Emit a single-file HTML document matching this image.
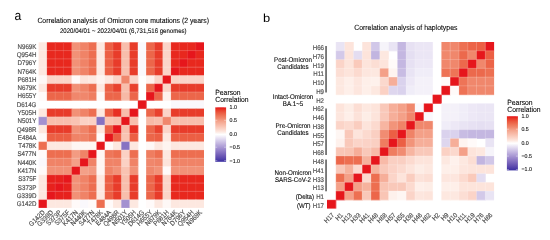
<!DOCTYPE html><html><head><meta charset="utf-8"><style>html,body{margin:0;padding:0;background:#fff;width:550px;height:240px;overflow:hidden}svg{display:block;will-change:transform;filter:blur(0.35px)}text{font-family:"Liberation Sans", sans-serif;fill:#000;stroke:#000;stroke-width:0.08px;paint-order:stroke;text-rendering:geometricPrecision}</style></head><body><svg width="550" height="240" viewBox="0 0 550 240"><rect width="550" height="240" fill="#fff"/><defs><linearGradient id="cb" x1="0" y1="0" x2="0" y2="1"><stop offset="0.000" stop-color="#e6161c"/><stop offset="0.025" stop-color="#e8281e"/><stop offset="0.050" stop-color="#e83c2a"/><stop offset="0.075" stop-color="#ea4b35"/><stop offset="0.100" stop-color="#eb5a40"/><stop offset="0.125" stop-color="#ec664a"/><stop offset="0.150" stop-color="#ee7255"/><stop offset="0.175" stop-color="#ef7d60"/><stop offset="0.200" stop-color="#f0876c"/><stop offset="0.225" stop-color="#f2947a"/><stop offset="0.250" stop-color="#f4a088"/><stop offset="0.275" stop-color="#f5a993"/><stop offset="0.300" stop-color="#f6b29d"/><stop offset="0.325" stop-color="#f8baa8"/><stop offset="0.350" stop-color="#f9c3b2"/><stop offset="0.375" stop-color="#faccbd"/><stop offset="0.400" stop-color="#fbd4c8"/><stop offset="0.425" stop-color="#fcded4"/><stop offset="0.450" stop-color="#fde8e0"/><stop offset="0.475" stop-color="#fef4f0"/><stop offset="0.500" stop-color="#ffffff"/><stop offset="0.525" stop-color="#f6f4fa"/><stop offset="0.550" stop-color="#ede8f6"/><stop offset="0.575" stop-color="#e4ddf1"/><stop offset="0.600" stop-color="#dad2ed"/><stop offset="0.625" stop-color="#d1c7e8"/><stop offset="0.650" stop-color="#c8bce3"/><stop offset="0.675" stop-color="#bfb1de"/><stop offset="0.700" stop-color="#b5a6da"/><stop offset="0.725" stop-color="#ac9cd5"/><stop offset="0.750" stop-color="#a391d0"/><stop offset="0.775" stop-color="#9987cc"/><stop offset="0.800" stop-color="#907cc7"/><stop offset="0.825" stop-color="#8672c2"/><stop offset="0.850" stop-color="#7c68bd"/><stop offset="0.875" stop-color="#725eb8"/><stop offset="0.900" stop-color="#6854b3"/><stop offset="0.925" stop-color="#5d4baf"/><stop offset="0.950" stop-color="#5241aa"/><stop offset="0.975" stop-color="#4637a5"/><stop offset="1.000" stop-color="#382ea0"/></linearGradient></defs><rect x="38.60" y="42.30" width="8.77" height="8.78" fill="#fde8e0"/><rect x="46.87" y="42.30" width="8.77" height="8.78" fill="#e8281e"/><rect x="55.14" y="42.30" width="8.77" height="8.78" fill="#e8281e"/><rect x="63.41" y="42.30" width="8.77" height="8.78" fill="#e8281e"/><rect x="71.68" y="42.30" width="8.77" height="8.78" fill="#f29177"/><rect x="79.95" y="42.30" width="8.77" height="8.78" fill="#f08367"/><rect x="88.22" y="42.30" width="8.77" height="8.78" fill="#ed6e50"/><rect x="96.49" y="42.30" width="8.77" height="8.78" fill="#fde8e0"/><rect x="104.76" y="42.30" width="8.77" height="8.78" fill="#ec5f44"/><rect x="113.03" y="42.30" width="8.77" height="8.78" fill="#e83c2a"/><rect x="121.30" y="42.30" width="8.77" height="8.78" fill="#f8beac"/><rect x="129.57" y="42.30" width="8.77" height="8.78" fill="#e83c2a"/><rect x="137.84" y="42.30" width="8.77" height="8.78" fill="#faf8fc"/><rect x="146.11" y="42.30" width="8.77" height="8.78" fill="#ec664a"/><rect x="154.38" y="42.30" width="8.77" height="8.78" fill="#e83c2a"/><rect x="162.65" y="42.30" width="8.77" height="8.78" fill="#fbd4c8"/><rect x="170.92" y="42.30" width="8.77" height="8.78" fill="#e8281e"/><rect x="179.19" y="42.30" width="8.77" height="8.78" fill="#e8281e"/><rect x="187.46" y="42.30" width="8.77" height="8.78" fill="#e8281e"/><rect x="195.73" y="42.30" width="8.27" height="8.78" fill="#e6161c"/><rect x="38.60" y="50.58" width="8.77" height="8.78" fill="#fde8e0"/><rect x="46.87" y="50.58" width="8.77" height="8.78" fill="#e8281e"/><rect x="55.14" y="50.58" width="8.77" height="8.78" fill="#e8281e"/><rect x="63.41" y="50.58" width="8.77" height="8.78" fill="#e8281e"/><rect x="71.68" y="50.58" width="8.77" height="8.78" fill="#f29177"/><rect x="79.95" y="50.58" width="8.77" height="8.78" fill="#f08367"/><rect x="88.22" y="50.58" width="8.77" height="8.78" fill="#ed6e50"/><rect x="96.49" y="50.58" width="8.77" height="8.78" fill="#fde8e0"/><rect x="104.76" y="50.58" width="8.77" height="8.78" fill="#ec5f44"/><rect x="113.03" y="50.58" width="8.77" height="8.78" fill="#e83c2a"/><rect x="121.30" y="50.58" width="8.77" height="8.78" fill="#f8beac"/><rect x="129.57" y="50.58" width="8.77" height="8.78" fill="#e83c2a"/><rect x="137.84" y="50.58" width="8.77" height="8.78" fill="#faf8fc"/><rect x="146.11" y="50.58" width="8.77" height="8.78" fill="#ec664a"/><rect x="154.38" y="50.58" width="8.77" height="8.78" fill="#e83c2a"/><rect x="162.65" y="50.58" width="8.77" height="8.78" fill="#fbd4c8"/><rect x="170.92" y="50.58" width="8.77" height="8.78" fill="#e8281e"/><rect x="179.19" y="50.58" width="8.77" height="8.78" fill="#e8281e"/><rect x="187.46" y="50.58" width="8.77" height="8.78" fill="#e6161c"/><rect x="195.73" y="50.58" width="8.27" height="8.78" fill="#e8281e"/><rect x="38.60" y="58.86" width="8.77" height="8.78" fill="#fde8e0"/><rect x="46.87" y="58.86" width="8.77" height="8.78" fill="#e8281e"/><rect x="55.14" y="58.86" width="8.77" height="8.78" fill="#e8281e"/><rect x="63.41" y="58.86" width="8.77" height="8.78" fill="#e8281e"/><rect x="71.68" y="58.86" width="8.77" height="8.78" fill="#f29177"/><rect x="79.95" y="58.86" width="8.77" height="8.78" fill="#f08367"/><rect x="88.22" y="58.86" width="8.77" height="8.78" fill="#ed6e50"/><rect x="96.49" y="58.86" width="8.77" height="8.78" fill="#fde8e0"/><rect x="104.76" y="58.86" width="8.77" height="8.78" fill="#ec5f44"/><rect x="113.03" y="58.86" width="8.77" height="8.78" fill="#e83c2a"/><rect x="121.30" y="58.86" width="8.77" height="8.78" fill="#f8beac"/><rect x="129.57" y="58.86" width="8.77" height="8.78" fill="#e83c2a"/><rect x="137.84" y="58.86" width="8.77" height="8.78" fill="#faf8fc"/><rect x="146.11" y="58.86" width="8.77" height="8.78" fill="#ec664a"/><rect x="154.38" y="58.86" width="8.77" height="8.78" fill="#e83c2a"/><rect x="162.65" y="58.86" width="8.77" height="8.78" fill="#fbd4c8"/><rect x="170.92" y="58.86" width="8.77" height="8.78" fill="#e8281e"/><rect x="179.19" y="58.86" width="8.77" height="8.78" fill="#e6161c"/><rect x="187.46" y="58.86" width="8.77" height="8.78" fill="#e8281e"/><rect x="195.73" y="58.86" width="8.27" height="8.78" fill="#e8281e"/><rect x="38.60" y="67.14" width="8.77" height="8.78" fill="#fde8e0"/><rect x="46.87" y="67.14" width="8.77" height="8.78" fill="#e8281e"/><rect x="55.14" y="67.14" width="8.77" height="8.78" fill="#e8281e"/><rect x="63.41" y="67.14" width="8.77" height="8.78" fill="#e8281e"/><rect x="71.68" y="67.14" width="8.77" height="8.78" fill="#f29177"/><rect x="79.95" y="67.14" width="8.77" height="8.78" fill="#f08367"/><rect x="88.22" y="67.14" width="8.77" height="8.78" fill="#ed6e50"/><rect x="96.49" y="67.14" width="8.77" height="8.78" fill="#fde8e0"/><rect x="104.76" y="67.14" width="8.77" height="8.78" fill="#ec5f44"/><rect x="113.03" y="67.14" width="8.77" height="8.78" fill="#e83c2a"/><rect x="121.30" y="67.14" width="8.77" height="8.78" fill="#f8beac"/><rect x="129.57" y="67.14" width="8.77" height="8.78" fill="#e83c2a"/><rect x="137.84" y="67.14" width="8.77" height="8.78" fill="#faf8fc"/><rect x="146.11" y="67.14" width="8.77" height="8.78" fill="#ec664a"/><rect x="154.38" y="67.14" width="8.77" height="8.78" fill="#e83c2a"/><rect x="162.65" y="67.14" width="8.77" height="8.78" fill="#fbd4c8"/><rect x="170.92" y="67.14" width="8.77" height="8.78" fill="#e6161c"/><rect x="179.19" y="67.14" width="8.77" height="8.78" fill="#e8281e"/><rect x="187.46" y="67.14" width="8.77" height="8.78" fill="#e8281e"/><rect x="195.73" y="67.14" width="8.27" height="8.78" fill="#e8281e"/><rect x="38.60" y="75.42" width="8.77" height="8.78" fill="#fef8f6"/><rect x="46.87" y="75.42" width="8.77" height="8.78" fill="#fbd4c8"/><rect x="55.14" y="75.42" width="8.77" height="8.78" fill="#fbd4c8"/><rect x="63.41" y="75.42" width="8.77" height="8.78" fill="#fbd4c8"/><rect x="71.68" y="75.42" width="8.77" height="8.78" fill="#fffaf9"/><rect x="79.95" y="75.42" width="8.77" height="8.78" fill="#fde4db"/><rect x="88.22" y="75.42" width="8.77" height="8.78" fill="#fde8e0"/><rect x="96.49" y="75.42" width="8.77" height="8.78" fill="#fef4f0"/><rect x="104.76" y="75.42" width="8.77" height="8.78" fill="#fde8e0"/><rect x="113.03" y="75.42" width="8.77" height="8.78" fill="#fbd4c8"/><rect x="121.30" y="75.42" width="8.77" height="8.78" fill="#f0876c"/><rect x="129.57" y="75.42" width="8.77" height="8.78" fill="#fbd4c8"/><rect x="146.11" y="75.42" width="8.77" height="8.78" fill="#fef1ec"/><rect x="154.38" y="75.42" width="8.77" height="8.78" fill="#fbd4c8"/><rect x="162.65" y="75.42" width="8.77" height="8.78" fill="#e6161c"/><rect x="170.92" y="75.42" width="8.77" height="8.78" fill="#fbd4c8"/><rect x="179.19" y="75.42" width="8.77" height="8.78" fill="#fbd4c8"/><rect x="187.46" y="75.42" width="8.77" height="8.78" fill="#fbd4c8"/><rect x="195.73" y="75.42" width="8.27" height="8.78" fill="#fbd4c8"/><rect x="38.60" y="83.70" width="8.77" height="8.78" fill="#fde8e0"/><rect x="46.87" y="83.70" width="8.77" height="8.78" fill="#e83c2a"/><rect x="55.14" y="83.70" width="8.77" height="8.78" fill="#e83c2a"/><rect x="63.41" y="83.70" width="8.77" height="8.78" fill="#e83c2a"/><rect x="71.68" y="83.70" width="8.77" height="8.78" fill="#f29177"/><rect x="79.95" y="83.70" width="8.77" height="8.78" fill="#f08367"/><rect x="88.22" y="83.70" width="8.77" height="8.78" fill="#ed6e50"/><rect x="96.49" y="83.70" width="8.77" height="8.78" fill="#fde8e0"/><rect x="104.76" y="83.70" width="8.77" height="8.78" fill="#ec5f44"/><rect x="113.03" y="83.70" width="8.77" height="8.78" fill="#e9422e"/><rect x="121.30" y="83.70" width="8.77" height="8.78" fill="#f8beac"/><rect x="129.57" y="83.70" width="8.77" height="8.78" fill="#e9422e"/><rect x="146.11" y="83.70" width="8.77" height="8.78" fill="#ec664a"/><rect x="154.38" y="83.70" width="8.77" height="8.78" fill="#e6161c"/><rect x="162.65" y="83.70" width="8.77" height="8.78" fill="#fbd4c8"/><rect x="170.92" y="83.70" width="8.77" height="8.78" fill="#e83c2a"/><rect x="179.19" y="83.70" width="8.77" height="8.78" fill="#e83c2a"/><rect x="187.46" y="83.70" width="8.77" height="8.78" fill="#e83c2a"/><rect x="195.73" y="83.70" width="8.27" height="8.78" fill="#e83c2a"/><rect x="38.60" y="91.98" width="8.77" height="8.78" fill="#fffaf9"/><rect x="46.87" y="91.98" width="8.77" height="8.78" fill="#ec664a"/><rect x="55.14" y="91.98" width="8.77" height="8.78" fill="#ec664a"/><rect x="63.41" y="91.98" width="8.77" height="8.78" fill="#ec664a"/><rect x="71.68" y="91.98" width="8.77" height="8.78" fill="#f0876c"/><rect x="79.95" y="91.98" width="8.77" height="8.78" fill="#f0876c"/><rect x="88.22" y="91.98" width="8.77" height="8.78" fill="#ef7d60"/><rect x="96.49" y="91.98" width="8.77" height="8.78" fill="#fef8f6"/><rect x="104.76" y="91.98" width="8.77" height="8.78" fill="#ec664a"/><rect x="113.03" y="91.98" width="8.77" height="8.78" fill="#ec664a"/><rect x="121.30" y="91.98" width="8.77" height="8.78" fill="#f7b9a6"/><rect x="129.57" y="91.98" width="8.77" height="8.78" fill="#ec664a"/><rect x="146.11" y="91.98" width="8.77" height="8.78" fill="#e6161c"/><rect x="154.38" y="91.98" width="8.77" height="8.78" fill="#ec664a"/><rect x="162.65" y="91.98" width="8.77" height="8.78" fill="#fef1ec"/><rect x="170.92" y="91.98" width="8.77" height="8.78" fill="#ec664a"/><rect x="179.19" y="91.98" width="8.77" height="8.78" fill="#ec664a"/><rect x="187.46" y="91.98" width="8.77" height="8.78" fill="#ec664a"/><rect x="195.73" y="91.98" width="8.27" height="8.78" fill="#ec664a"/><rect x="137.84" y="100.26" width="8.77" height="8.78" fill="#e6161c"/><rect x="170.92" y="100.26" width="8.77" height="8.78" fill="#faf8fc"/><rect x="179.19" y="100.26" width="8.77" height="8.78" fill="#faf8fc"/><rect x="187.46" y="100.26" width="8.77" height="8.78" fill="#faf8fc"/><rect x="195.73" y="100.26" width="8.27" height="8.78" fill="#faf8fc"/><rect x="38.60" y="108.54" width="8.77" height="8.78" fill="#fde8e0"/><rect x="46.87" y="108.54" width="8.77" height="8.78" fill="#e83c2a"/><rect x="55.14" y="108.54" width="8.77" height="8.78" fill="#e83c2a"/><rect x="63.41" y="108.54" width="8.77" height="8.78" fill="#e83c2a"/><rect x="71.68" y="108.54" width="8.77" height="8.78" fill="#f29177"/><rect x="79.95" y="108.54" width="8.77" height="8.78" fill="#f08367"/><rect x="88.22" y="108.54" width="8.77" height="8.78" fill="#ed6e50"/><rect x="96.49" y="108.54" width="8.77" height="8.78" fill="#fde8e0"/><rect x="104.76" y="108.54" width="8.77" height="8.78" fill="#ec5f44"/><rect x="113.03" y="108.54" width="8.77" height="8.78" fill="#e83023"/><rect x="121.30" y="108.54" width="8.77" height="8.78" fill="#f8beac"/><rect x="129.57" y="108.54" width="8.77" height="8.78" fill="#e6161c"/><rect x="146.11" y="108.54" width="8.77" height="8.78" fill="#ec664a"/><rect x="154.38" y="108.54" width="8.77" height="8.78" fill="#e9422e"/><rect x="162.65" y="108.54" width="8.77" height="8.78" fill="#fbd4c8"/><rect x="170.92" y="108.54" width="8.77" height="8.78" fill="#e83c2a"/><rect x="179.19" y="108.54" width="8.77" height="8.78" fill="#e83c2a"/><rect x="187.46" y="108.54" width="8.77" height="8.78" fill="#e83c2a"/><rect x="195.73" y="108.54" width="8.27" height="8.78" fill="#e83c2a"/><rect x="38.60" y="116.82" width="8.77" height="8.78" fill="#a391d0"/><rect x="46.87" y="116.82" width="8.77" height="8.78" fill="#f8beac"/><rect x="55.14" y="116.82" width="8.77" height="8.78" fill="#f8beac"/><rect x="63.41" y="116.82" width="8.77" height="8.78" fill="#f8beac"/><rect x="71.68" y="116.82" width="8.77" height="8.78" fill="#f9c3b2"/><rect x="79.95" y="116.82" width="8.77" height="8.78" fill="#fbd1c4"/><rect x="88.22" y="116.82" width="8.77" height="8.78" fill="#fbd1c4"/><rect x="96.49" y="116.82" width="8.77" height="8.78" fill="#8672c2"/><rect x="104.76" y="116.82" width="8.77" height="8.78" fill="#f9c3b2"/><rect x="113.03" y="116.82" width="8.77" height="8.78" fill="#f8beac"/><rect x="121.30" y="116.82" width="8.77" height="8.78" fill="#e6161c"/><rect x="129.57" y="116.82" width="8.77" height="8.78" fill="#f8beac"/><rect x="146.11" y="116.82" width="8.77" height="8.78" fill="#f7b9a6"/><rect x="154.38" y="116.82" width="8.77" height="8.78" fill="#f8beac"/><rect x="162.65" y="116.82" width="8.77" height="8.78" fill="#f0876c"/><rect x="170.92" y="116.82" width="8.77" height="8.78" fill="#f8beac"/><rect x="179.19" y="116.82" width="8.77" height="8.78" fill="#f8beac"/><rect x="187.46" y="116.82" width="8.77" height="8.78" fill="#f8beac"/><rect x="195.73" y="116.82" width="8.27" height="8.78" fill="#f8beac"/><rect x="38.60" y="125.10" width="8.77" height="8.78" fill="#fde8e0"/><rect x="46.87" y="125.10" width="8.77" height="8.78" fill="#e83c2a"/><rect x="55.14" y="125.10" width="8.77" height="8.78" fill="#e83c2a"/><rect x="63.41" y="125.10" width="8.77" height="8.78" fill="#e83c2a"/><rect x="71.68" y="125.10" width="8.77" height="8.78" fill="#f29177"/><rect x="79.95" y="125.10" width="8.77" height="8.78" fill="#f08367"/><rect x="88.22" y="125.10" width="8.77" height="8.78" fill="#ed6e50"/><rect x="96.49" y="125.10" width="8.77" height="8.78" fill="#fde8e0"/><rect x="104.76" y="125.10" width="8.77" height="8.78" fill="#ec5f44"/><rect x="113.03" y="125.10" width="8.77" height="8.78" fill="#e6161c"/><rect x="121.30" y="125.10" width="8.77" height="8.78" fill="#f8beac"/><rect x="129.57" y="125.10" width="8.77" height="8.78" fill="#e83023"/><rect x="146.11" y="125.10" width="8.77" height="8.78" fill="#ec664a"/><rect x="154.38" y="125.10" width="8.77" height="8.78" fill="#e9422e"/><rect x="162.65" y="125.10" width="8.77" height="8.78" fill="#fbd4c8"/><rect x="170.92" y="125.10" width="8.77" height="8.78" fill="#e83c2a"/><rect x="179.19" y="125.10" width="8.77" height="8.78" fill="#e83c2a"/><rect x="187.46" y="125.10" width="8.77" height="8.78" fill="#e83c2a"/><rect x="195.73" y="125.10" width="8.27" height="8.78" fill="#e83c2a"/><rect x="38.60" y="133.38" width="8.77" height="8.78" fill="#fffaf9"/><rect x="46.87" y="133.38" width="8.77" height="8.78" fill="#ec5f44"/><rect x="55.14" y="133.38" width="8.77" height="8.78" fill="#ec5f44"/><rect x="63.41" y="133.38" width="8.77" height="8.78" fill="#ec5f44"/><rect x="71.68" y="133.38" width="8.77" height="8.78" fill="#f08367"/><rect x="79.95" y="133.38" width="8.77" height="8.78" fill="#f08367"/><rect x="88.22" y="133.38" width="8.77" height="8.78" fill="#ee7659"/><rect x="96.49" y="133.38" width="8.77" height="8.78" fill="#fffaf9"/><rect x="104.76" y="133.38" width="8.77" height="8.78" fill="#e6161c"/><rect x="113.03" y="133.38" width="8.77" height="8.78" fill="#ec5f44"/><rect x="121.30" y="133.38" width="8.77" height="8.78" fill="#f9c3b2"/><rect x="129.57" y="133.38" width="8.77" height="8.78" fill="#ec5f44"/><rect x="146.11" y="133.38" width="8.77" height="8.78" fill="#ec664a"/><rect x="154.38" y="133.38" width="8.77" height="8.78" fill="#ec5f44"/><rect x="162.65" y="133.38" width="8.77" height="8.78" fill="#fde8e0"/><rect x="170.92" y="133.38" width="8.77" height="8.78" fill="#ec5f44"/><rect x="179.19" y="133.38" width="8.77" height="8.78" fill="#ec5f44"/><rect x="187.46" y="133.38" width="8.77" height="8.78" fill="#ec5f44"/><rect x="195.73" y="133.38" width="8.27" height="8.78" fill="#ec5f44"/><rect x="38.60" y="141.66" width="8.77" height="8.78" fill="#ed6e50"/><rect x="46.87" y="141.66" width="8.77" height="8.78" fill="#fde8e0"/><rect x="55.14" y="141.66" width="8.77" height="8.78" fill="#fde8e0"/><rect x="63.41" y="141.66" width="8.77" height="8.78" fill="#fde8e0"/><rect x="71.68" y="141.66" width="8.77" height="8.78" fill="#fef6f3"/><rect x="79.95" y="141.66" width="8.77" height="8.78" fill="#fef6f3"/><rect x="88.22" y="141.66" width="8.77" height="8.78" fill="#fef6f3"/><rect x="96.49" y="141.66" width="8.77" height="8.78" fill="#e6161c"/><rect x="104.76" y="141.66" width="8.77" height="8.78" fill="#fffaf9"/><rect x="113.03" y="141.66" width="8.77" height="8.78" fill="#fde8e0"/><rect x="121.30" y="141.66" width="8.77" height="8.78" fill="#8672c2"/><rect x="129.57" y="141.66" width="8.77" height="8.78" fill="#fde8e0"/><rect x="146.11" y="141.66" width="8.77" height="8.78" fill="#fef8f6"/><rect x="154.38" y="141.66" width="8.77" height="8.78" fill="#fde8e0"/><rect x="162.65" y="141.66" width="8.77" height="8.78" fill="#fef4f0"/><rect x="170.92" y="141.66" width="8.77" height="8.78" fill="#fde8e0"/><rect x="179.19" y="141.66" width="8.77" height="8.78" fill="#fde8e0"/><rect x="187.46" y="141.66" width="8.77" height="8.78" fill="#fde8e0"/><rect x="195.73" y="141.66" width="8.27" height="8.78" fill="#fde8e0"/><rect x="38.60" y="149.94" width="8.77" height="8.78" fill="#fffaf9"/><rect x="46.87" y="149.94" width="8.77" height="8.78" fill="#ed6e50"/><rect x="55.14" y="149.94" width="8.77" height="8.78" fill="#ed6e50"/><rect x="63.41" y="149.94" width="8.77" height="8.78" fill="#ed6e50"/><rect x="71.68" y="149.94" width="8.77" height="8.78" fill="#f39b82"/><rect x="79.95" y="149.94" width="8.77" height="8.78" fill="#f08367"/><rect x="88.22" y="149.94" width="8.77" height="8.78" fill="#e6161c"/><rect x="96.49" y="149.94" width="8.77" height="8.78" fill="#fef6f3"/><rect x="104.76" y="149.94" width="8.77" height="8.78" fill="#ee7659"/><rect x="113.03" y="149.94" width="8.77" height="8.78" fill="#ed6e50"/><rect x="121.30" y="149.94" width="8.77" height="8.78" fill="#fbd1c4"/><rect x="129.57" y="149.94" width="8.77" height="8.78" fill="#ed6e50"/><rect x="146.11" y="149.94" width="8.77" height="8.78" fill="#ef7d60"/><rect x="154.38" y="149.94" width="8.77" height="8.78" fill="#ed6e50"/><rect x="162.65" y="149.94" width="8.77" height="8.78" fill="#fde8e0"/><rect x="170.92" y="149.94" width="8.77" height="8.78" fill="#ed6e50"/><rect x="179.19" y="149.94" width="8.77" height="8.78" fill="#ed6e50"/><rect x="187.46" y="149.94" width="8.77" height="8.78" fill="#ed6e50"/><rect x="195.73" y="149.94" width="8.27" height="8.78" fill="#ed6e50"/><rect x="38.60" y="158.22" width="8.77" height="8.78" fill="#faf8fc"/><rect x="46.87" y="158.22" width="8.77" height="8.78" fill="#f08367"/><rect x="55.14" y="158.22" width="8.77" height="8.78" fill="#f08367"/><rect x="63.41" y="158.22" width="8.77" height="8.78" fill="#f08367"/><rect x="71.68" y="158.22" width="8.77" height="8.78" fill="#f4a088"/><rect x="79.95" y="158.22" width="8.77" height="8.78" fill="#e6161c"/><rect x="88.22" y="158.22" width="8.77" height="8.78" fill="#f08367"/><rect x="96.49" y="158.22" width="8.77" height="8.78" fill="#fef6f3"/><rect x="104.76" y="158.22" width="8.77" height="8.78" fill="#f08367"/><rect x="113.03" y="158.22" width="8.77" height="8.78" fill="#f08367"/><rect x="121.30" y="158.22" width="8.77" height="8.78" fill="#fbd1c4"/><rect x="129.57" y="158.22" width="8.77" height="8.78" fill="#f08367"/><rect x="146.11" y="158.22" width="8.77" height="8.78" fill="#f0876c"/><rect x="154.38" y="158.22" width="8.77" height="8.78" fill="#f08367"/><rect x="162.65" y="158.22" width="8.77" height="8.78" fill="#fde4db"/><rect x="170.92" y="158.22" width="8.77" height="8.78" fill="#f08367"/><rect x="179.19" y="158.22" width="8.77" height="8.78" fill="#f08367"/><rect x="187.46" y="158.22" width="8.77" height="8.78" fill="#f08367"/><rect x="195.73" y="158.22" width="8.27" height="8.78" fill="#f08367"/><rect x="38.60" y="166.50" width="8.77" height="8.78" fill="#fffaf9"/><rect x="46.87" y="166.50" width="8.77" height="8.78" fill="#f29177"/><rect x="55.14" y="166.50" width="8.77" height="8.78" fill="#f29177"/><rect x="63.41" y="166.50" width="8.77" height="8.78" fill="#f29177"/><rect x="71.68" y="166.50" width="8.77" height="8.78" fill="#e6161c"/><rect x="79.95" y="166.50" width="8.77" height="8.78" fill="#f4a088"/><rect x="88.22" y="166.50" width="8.77" height="8.78" fill="#f39b82"/><rect x="96.49" y="166.50" width="8.77" height="8.78" fill="#fef6f3"/><rect x="104.76" y="166.50" width="8.77" height="8.78" fill="#f08367"/><rect x="113.03" y="166.50" width="8.77" height="8.78" fill="#f29177"/><rect x="121.30" y="166.50" width="8.77" height="8.78" fill="#f9c3b2"/><rect x="129.57" y="166.50" width="8.77" height="8.78" fill="#f29177"/><rect x="146.11" y="166.50" width="8.77" height="8.78" fill="#f0876c"/><rect x="154.38" y="166.50" width="8.77" height="8.78" fill="#f29177"/><rect x="162.65" y="166.50" width="8.77" height="8.78" fill="#fffaf9"/><rect x="170.92" y="166.50" width="8.77" height="8.78" fill="#f29177"/><rect x="179.19" y="166.50" width="8.77" height="8.78" fill="#f29177"/><rect x="187.46" y="166.50" width="8.77" height="8.78" fill="#f29177"/><rect x="195.73" y="166.50" width="8.27" height="8.78" fill="#f29177"/><rect x="38.60" y="174.78" width="8.77" height="8.78" fill="#fde8e0"/><rect x="46.87" y="174.78" width="8.77" height="8.78" fill="#e7211d"/><rect x="55.14" y="174.78" width="8.77" height="8.78" fill="#e7211d"/><rect x="63.41" y="174.78" width="8.77" height="8.78" fill="#e6161c"/><rect x="71.68" y="174.78" width="8.77" height="8.78" fill="#f29177"/><rect x="79.95" y="174.78" width="8.77" height="8.78" fill="#f08367"/><rect x="88.22" y="174.78" width="8.77" height="8.78" fill="#ed6e50"/><rect x="96.49" y="174.78" width="8.77" height="8.78" fill="#fde8e0"/><rect x="104.76" y="174.78" width="8.77" height="8.78" fill="#ec5f44"/><rect x="113.03" y="174.78" width="8.77" height="8.78" fill="#e83c2a"/><rect x="121.30" y="174.78" width="8.77" height="8.78" fill="#f8beac"/><rect x="129.57" y="174.78" width="8.77" height="8.78" fill="#e83c2a"/><rect x="146.11" y="174.78" width="8.77" height="8.78" fill="#ec664a"/><rect x="154.38" y="174.78" width="8.77" height="8.78" fill="#e83c2a"/><rect x="162.65" y="174.78" width="8.77" height="8.78" fill="#fbd4c8"/><rect x="170.92" y="174.78" width="8.77" height="8.78" fill="#e8281e"/><rect x="179.19" y="174.78" width="8.77" height="8.78" fill="#e8281e"/><rect x="187.46" y="174.78" width="8.77" height="8.78" fill="#e8281e"/><rect x="195.73" y="174.78" width="8.27" height="8.78" fill="#e8281e"/><rect x="38.60" y="183.06" width="8.77" height="8.78" fill="#fde8e0"/><rect x="46.87" y="183.06" width="8.77" height="8.78" fill="#e7211d"/><rect x="55.14" y="183.06" width="8.77" height="8.78" fill="#e6161c"/><rect x="63.41" y="183.06" width="8.77" height="8.78" fill="#e7211d"/><rect x="71.68" y="183.06" width="8.77" height="8.78" fill="#f29177"/><rect x="79.95" y="183.06" width="8.77" height="8.78" fill="#f08367"/><rect x="88.22" y="183.06" width="8.77" height="8.78" fill="#ed6e50"/><rect x="96.49" y="183.06" width="8.77" height="8.78" fill="#fde8e0"/><rect x="104.76" y="183.06" width="8.77" height="8.78" fill="#ec5f44"/><rect x="113.03" y="183.06" width="8.77" height="8.78" fill="#e83c2a"/><rect x="121.30" y="183.06" width="8.77" height="8.78" fill="#f8beac"/><rect x="129.57" y="183.06" width="8.77" height="8.78" fill="#e83c2a"/><rect x="146.11" y="183.06" width="8.77" height="8.78" fill="#ec664a"/><rect x="154.38" y="183.06" width="8.77" height="8.78" fill="#e83c2a"/><rect x="162.65" y="183.06" width="8.77" height="8.78" fill="#fbd4c8"/><rect x="170.92" y="183.06" width="8.77" height="8.78" fill="#e8281e"/><rect x="179.19" y="183.06" width="8.77" height="8.78" fill="#e8281e"/><rect x="187.46" y="183.06" width="8.77" height="8.78" fill="#e8281e"/><rect x="195.73" y="183.06" width="8.27" height="8.78" fill="#e8281e"/><rect x="38.60" y="191.34" width="8.77" height="8.78" fill="#fde8e0"/><rect x="46.87" y="191.34" width="8.77" height="8.78" fill="#e6161c"/><rect x="55.14" y="191.34" width="8.77" height="8.78" fill="#e7211d"/><rect x="63.41" y="191.34" width="8.77" height="8.78" fill="#e7211d"/><rect x="71.68" y="191.34" width="8.77" height="8.78" fill="#f29177"/><rect x="79.95" y="191.34" width="8.77" height="8.78" fill="#f08367"/><rect x="88.22" y="191.34" width="8.77" height="8.78" fill="#ed6e50"/><rect x="96.49" y="191.34" width="8.77" height="8.78" fill="#fde8e0"/><rect x="104.76" y="191.34" width="8.77" height="8.78" fill="#ec5f44"/><rect x="113.03" y="191.34" width="8.77" height="8.78" fill="#e83c2a"/><rect x="121.30" y="191.34" width="8.77" height="8.78" fill="#f8beac"/><rect x="129.57" y="191.34" width="8.77" height="8.78" fill="#e83c2a"/><rect x="146.11" y="191.34" width="8.77" height="8.78" fill="#ec664a"/><rect x="154.38" y="191.34" width="8.77" height="8.78" fill="#e83c2a"/><rect x="162.65" y="191.34" width="8.77" height="8.78" fill="#fbd4c8"/><rect x="170.92" y="191.34" width="8.77" height="8.78" fill="#e8281e"/><rect x="179.19" y="191.34" width="8.77" height="8.78" fill="#e8281e"/><rect x="187.46" y="191.34" width="8.77" height="8.78" fill="#e8281e"/><rect x="195.73" y="191.34" width="8.27" height="8.78" fill="#e8281e"/><rect x="38.60" y="199.62" width="8.77" height="8.28" fill="#e6161c"/><rect x="46.87" y="199.62" width="8.77" height="8.28" fill="#fde8e0"/><rect x="55.14" y="199.62" width="8.77" height="8.28" fill="#fde8e0"/><rect x="63.41" y="199.62" width="8.77" height="8.28" fill="#fde8e0"/><rect x="71.68" y="199.62" width="8.77" height="8.28" fill="#fffaf9"/><rect x="79.95" y="199.62" width="8.77" height="8.28" fill="#faf8fc"/><rect x="88.22" y="199.62" width="8.77" height="8.28" fill="#fffaf9"/><rect x="96.49" y="199.62" width="8.77" height="8.28" fill="#ed6e50"/><rect x="104.76" y="199.62" width="8.77" height="8.28" fill="#fffaf9"/><rect x="113.03" y="199.62" width="8.77" height="8.28" fill="#fde8e0"/><rect x="121.30" y="199.62" width="8.77" height="8.28" fill="#a391d0"/><rect x="129.57" y="199.62" width="8.77" height="8.28" fill="#fde8e0"/><rect x="146.11" y="199.62" width="8.77" height="8.28" fill="#fffaf9"/><rect x="154.38" y="199.62" width="8.77" height="8.28" fill="#fde8e0"/><rect x="162.65" y="199.62" width="8.77" height="8.28" fill="#fef8f6"/><rect x="170.92" y="199.62" width="8.77" height="8.28" fill="#fde8e0"/><rect x="179.19" y="199.62" width="8.77" height="8.28" fill="#fde8e0"/><rect x="187.46" y="199.62" width="8.77" height="8.28" fill="#fde8e0"/><rect x="195.73" y="199.62" width="8.27" height="8.28" fill="#fde8e0"/><line x1="38.60" x2="204.00" y1="50.58" y2="50.58" stroke="#fff" stroke-opacity="0.40" stroke-width="0.50"/><line x1="46.87" x2="46.87" y1="42.30" y2="207.90" stroke="#fff" stroke-opacity="0.18" stroke-width="0.50"/><line x1="38.60" x2="204.00" y1="58.86" y2="58.86" stroke="#fff" stroke-opacity="0.40" stroke-width="0.50"/><line x1="55.14" x2="55.14" y1="42.30" y2="207.90" stroke="#fff" stroke-opacity="0.18" stroke-width="0.50"/><line x1="38.60" x2="204.00" y1="67.14" y2="67.14" stroke="#fff" stroke-opacity="0.40" stroke-width="0.50"/><line x1="63.41" x2="63.41" y1="42.30" y2="207.90" stroke="#fff" stroke-opacity="0.18" stroke-width="0.50"/><line x1="38.60" x2="204.00" y1="75.42" y2="75.42" stroke="#fff" stroke-opacity="0.40" stroke-width="0.50"/><line x1="71.68" x2="71.68" y1="42.30" y2="207.90" stroke="#fff" stroke-opacity="0.18" stroke-width="0.50"/><line x1="38.60" x2="204.00" y1="83.70" y2="83.70" stroke="#fff" stroke-opacity="0.40" stroke-width="0.50"/><line x1="79.95" x2="79.95" y1="42.30" y2="207.90" stroke="#fff" stroke-opacity="0.18" stroke-width="0.50"/><line x1="38.60" x2="204.00" y1="91.98" y2="91.98" stroke="#fff" stroke-opacity="0.40" stroke-width="0.50"/><line x1="88.22" x2="88.22" y1="42.30" y2="207.90" stroke="#fff" stroke-opacity="0.18" stroke-width="0.50"/><line x1="38.60" x2="204.00" y1="100.26" y2="100.26" stroke="#fff" stroke-opacity="0.40" stroke-width="0.50"/><line x1="96.49" x2="96.49" y1="42.30" y2="207.90" stroke="#fff" stroke-opacity="0.18" stroke-width="0.50"/><line x1="38.60" x2="204.00" y1="108.54" y2="108.54" stroke="#fff" stroke-opacity="0.40" stroke-width="0.50"/><line x1="104.76" x2="104.76" y1="42.30" y2="207.90" stroke="#fff" stroke-opacity="0.18" stroke-width="0.50"/><line x1="38.60" x2="204.00" y1="116.82" y2="116.82" stroke="#fff" stroke-opacity="0.40" stroke-width="0.50"/><line x1="113.03" x2="113.03" y1="42.30" y2="207.90" stroke="#fff" stroke-opacity="0.18" stroke-width="0.50"/><line x1="38.60" x2="204.00" y1="125.10" y2="125.10" stroke="#fff" stroke-opacity="0.40" stroke-width="0.50"/><line x1="121.30" x2="121.30" y1="42.30" y2="207.90" stroke="#fff" stroke-opacity="0.18" stroke-width="0.50"/><line x1="38.60" x2="204.00" y1="133.38" y2="133.38" stroke="#fff" stroke-opacity="0.40" stroke-width="0.50"/><line x1="129.57" x2="129.57" y1="42.30" y2="207.90" stroke="#fff" stroke-opacity="0.18" stroke-width="0.50"/><line x1="38.60" x2="204.00" y1="141.66" y2="141.66" stroke="#fff" stroke-opacity="0.40" stroke-width="0.50"/><line x1="137.84" x2="137.84" y1="42.30" y2="207.90" stroke="#fff" stroke-opacity="0.18" stroke-width="0.50"/><line x1="38.60" x2="204.00" y1="149.94" y2="149.94" stroke="#fff" stroke-opacity="0.40" stroke-width="0.50"/><line x1="146.11" x2="146.11" y1="42.30" y2="207.90" stroke="#fff" stroke-opacity="0.18" stroke-width="0.50"/><line x1="38.60" x2="204.00" y1="158.22" y2="158.22" stroke="#fff" stroke-opacity="0.40" stroke-width="0.50"/><line x1="154.38" x2="154.38" y1="42.30" y2="207.90" stroke="#fff" stroke-opacity="0.18" stroke-width="0.50"/><line x1="38.60" x2="204.00" y1="166.50" y2="166.50" stroke="#fff" stroke-opacity="0.40" stroke-width="0.50"/><line x1="162.65" x2="162.65" y1="42.30" y2="207.90" stroke="#fff" stroke-opacity="0.18" stroke-width="0.50"/><line x1="38.60" x2="204.00" y1="174.78" y2="174.78" stroke="#fff" stroke-opacity="0.40" stroke-width="0.50"/><line x1="170.92" x2="170.92" y1="42.30" y2="207.90" stroke="#fff" stroke-opacity="0.18" stroke-width="0.50"/><line x1="38.60" x2="204.00" y1="183.06" y2="183.06" stroke="#fff" stroke-opacity="0.40" stroke-width="0.50"/><line x1="179.19" x2="179.19" y1="42.30" y2="207.90" stroke="#fff" stroke-opacity="0.18" stroke-width="0.50"/><line x1="38.60" x2="204.00" y1="191.34" y2="191.34" stroke="#fff" stroke-opacity="0.40" stroke-width="0.50"/><line x1="187.46" x2="187.46" y1="42.30" y2="207.90" stroke="#fff" stroke-opacity="0.18" stroke-width="0.50"/><line x1="38.60" x2="204.00" y1="199.62" y2="199.62" stroke="#fff" stroke-opacity="0.40" stroke-width="0.50"/><line x1="195.73" x2="195.73" y1="42.30" y2="207.90" stroke="#fff" stroke-opacity="0.18" stroke-width="0.50"/><text transform="translate(14.5,19.6) scale(1,1.100)" style="font-size:12.2px;stroke:none">a</text><text transform="translate(37.4,23) scale(1,1.100)" style="font-size:6.86px">Correlation analysis of Omicron core mutations (2 years)</text><text transform="translate(60,32.6) scale(1,1.100)" style="font-size:6.05px">2020/04/01 ~ 2022/04/01 (6,731,516 genomes)</text><text transform="translate(36.4,48.79) scale(1,1.100)" text-anchor="end" style="font-size:6.2px;fill:#4d4d4d;stroke:#4d4d4d;stroke-width:0.15px">N969K</text><text transform="translate(36.4,57.07) scale(1,1.100)" text-anchor="end" style="font-size:6.2px;fill:#4d4d4d;stroke:#4d4d4d;stroke-width:0.15px">Q954H</text><text transform="translate(36.4,65.35) scale(1,1.100)" text-anchor="end" style="font-size:6.2px;fill:#4d4d4d;stroke:#4d4d4d;stroke-width:0.15px">D796Y</text><text transform="translate(36.4,73.63) scale(1,1.100)" text-anchor="end" style="font-size:6.2px;fill:#4d4d4d;stroke:#4d4d4d;stroke-width:0.15px">N764K</text><text transform="translate(36.4,81.91) scale(1,1.100)" text-anchor="end" style="font-size:6.2px;fill:#4d4d4d;stroke:#4d4d4d;stroke-width:0.15px">P681H</text><text transform="translate(36.4,90.19) scale(1,1.100)" text-anchor="end" style="font-size:6.2px;fill:#4d4d4d;stroke:#4d4d4d;stroke-width:0.15px">N679K</text><text transform="translate(36.4,98.47) scale(1,1.100)" text-anchor="end" style="font-size:6.2px;fill:#4d4d4d;stroke:#4d4d4d;stroke-width:0.15px">H655Y</text><text transform="translate(36.4,106.75) scale(1,1.100)" text-anchor="end" style="font-size:6.2px;fill:#4d4d4d;stroke:#4d4d4d;stroke-width:0.15px">D614G</text><text transform="translate(36.4,115.03) scale(1,1.100)" text-anchor="end" style="font-size:6.2px;fill:#4d4d4d;stroke:#4d4d4d;stroke-width:0.15px">Y505H</text><text transform="translate(36.4,123.31) scale(1,1.100)" text-anchor="end" style="font-size:6.2px;fill:#4d4d4d;stroke:#4d4d4d;stroke-width:0.15px">N501Y</text><text transform="translate(36.4,131.59) scale(1,1.100)" text-anchor="end" style="font-size:6.2px;fill:#4d4d4d;stroke:#4d4d4d;stroke-width:0.15px">Q498R</text><text transform="translate(36.4,139.87) scale(1,1.100)" text-anchor="end" style="font-size:6.2px;fill:#4d4d4d;stroke:#4d4d4d;stroke-width:0.15px">E484A</text><text transform="translate(36.4,148.15) scale(1,1.100)" text-anchor="end" style="font-size:6.2px;fill:#4d4d4d;stroke:#4d4d4d;stroke-width:0.15px">T478K</text><text transform="translate(36.4,156.43) scale(1,1.100)" text-anchor="end" style="font-size:6.2px;fill:#4d4d4d;stroke:#4d4d4d;stroke-width:0.15px">S477N</text><text transform="translate(36.4,164.71) scale(1,1.100)" text-anchor="end" style="font-size:6.2px;fill:#4d4d4d;stroke:#4d4d4d;stroke-width:0.15px">N440K</text><text transform="translate(36.4,172.99) scale(1,1.100)" text-anchor="end" style="font-size:6.2px;fill:#4d4d4d;stroke:#4d4d4d;stroke-width:0.15px">K417N</text><text transform="translate(36.4,181.27) scale(1,1.100)" text-anchor="end" style="font-size:6.2px;fill:#4d4d4d;stroke:#4d4d4d;stroke-width:0.15px">S375F</text><text transform="translate(36.4,189.55) scale(1,1.100)" text-anchor="end" style="font-size:6.2px;fill:#4d4d4d;stroke:#4d4d4d;stroke-width:0.15px">S373P</text><text transform="translate(36.4,197.83) scale(1,1.100)" text-anchor="end" style="font-size:6.2px;fill:#4d4d4d;stroke:#4d4d4d;stroke-width:0.15px">G339D</text><text transform="translate(36.4,206.11) scale(1,1.100)" text-anchor="end" style="font-size:6.2px;fill:#4d4d4d;stroke:#4d4d4d;stroke-width:0.15px">G142D</text><text text-anchor="end" transform="translate(45.34,212.90) rotate(-45) scale(1,1.100)" style="font-size:6.2px;fill:#4d4d4d;stroke:#4d4d4d;stroke-width:0.15px">G142D</text><text text-anchor="end" transform="translate(53.61,212.90) rotate(-45) scale(1,1.100)" style="font-size:6.2px;fill:#4d4d4d;stroke:#4d4d4d;stroke-width:0.15px">G339D</text><text text-anchor="end" transform="translate(61.88,212.90) rotate(-45) scale(1,1.100)" style="font-size:6.2px;fill:#4d4d4d;stroke:#4d4d4d;stroke-width:0.15px">S373P</text><text text-anchor="end" transform="translate(70.14,212.90) rotate(-45) scale(1,1.100)" style="font-size:6.2px;fill:#4d4d4d;stroke:#4d4d4d;stroke-width:0.15px">S375F</text><text text-anchor="end" transform="translate(78.41,212.90) rotate(-45) scale(1,1.100)" style="font-size:6.2px;fill:#4d4d4d;stroke:#4d4d4d;stroke-width:0.15px">K417N</text><text text-anchor="end" transform="translate(86.69,212.90) rotate(-45) scale(1,1.100)" style="font-size:6.2px;fill:#4d4d4d;stroke:#4d4d4d;stroke-width:0.15px">N440K</text><text text-anchor="end" transform="translate(94.95,212.90) rotate(-45) scale(1,1.100)" style="font-size:6.2px;fill:#4d4d4d;stroke:#4d4d4d;stroke-width:0.15px">S477N</text><text text-anchor="end" transform="translate(103.22,212.90) rotate(-45) scale(1,1.100)" style="font-size:6.2px;fill:#4d4d4d;stroke:#4d4d4d;stroke-width:0.15px">T478K</text><text text-anchor="end" transform="translate(111.50,212.90) rotate(-45) scale(1,1.100)" style="font-size:6.2px;fill:#4d4d4d;stroke:#4d4d4d;stroke-width:0.15px">E484A</text><text text-anchor="end" transform="translate(119.76,212.90) rotate(-45) scale(1,1.100)" style="font-size:6.2px;fill:#4d4d4d;stroke:#4d4d4d;stroke-width:0.15px">Q498R</text><text text-anchor="end" transform="translate(128.03,212.90) rotate(-45) scale(1,1.100)" style="font-size:6.2px;fill:#4d4d4d;stroke:#4d4d4d;stroke-width:0.15px">N501Y</text><text text-anchor="end" transform="translate(136.30,212.90) rotate(-45) scale(1,1.100)" style="font-size:6.2px;fill:#4d4d4d;stroke:#4d4d4d;stroke-width:0.15px">Y505H</text><text text-anchor="end" transform="translate(144.57,212.90) rotate(-45) scale(1,1.100)" style="font-size:6.2px;fill:#4d4d4d;stroke:#4d4d4d;stroke-width:0.15px">D614G</text><text text-anchor="end" transform="translate(152.84,212.90) rotate(-45) scale(1,1.100)" style="font-size:6.2px;fill:#4d4d4d;stroke:#4d4d4d;stroke-width:0.15px">H655Y</text><text text-anchor="end" transform="translate(161.11,212.90) rotate(-45) scale(1,1.100)" style="font-size:6.2px;fill:#4d4d4d;stroke:#4d4d4d;stroke-width:0.15px">N679K</text><text text-anchor="end" transform="translate(169.38,212.90) rotate(-45) scale(1,1.100)" style="font-size:6.2px;fill:#4d4d4d;stroke:#4d4d4d;stroke-width:0.15px">P681H</text><text text-anchor="end" transform="translate(177.65,212.90) rotate(-45) scale(1,1.100)" style="font-size:6.2px;fill:#4d4d4d;stroke:#4d4d4d;stroke-width:0.15px">N764K</text><text text-anchor="end" transform="translate(185.92,212.90) rotate(-45) scale(1,1.100)" style="font-size:6.2px;fill:#4d4d4d;stroke:#4d4d4d;stroke-width:0.15px">D796Y</text><text text-anchor="end" transform="translate(194.19,212.90) rotate(-45) scale(1,1.100)" style="font-size:6.2px;fill:#4d4d4d;stroke:#4d4d4d;stroke-width:0.15px">Q954H</text><text text-anchor="end" transform="translate(202.46,212.90) rotate(-45) scale(1,1.100)" style="font-size:6.2px;fill:#4d4d4d;stroke:#4d4d4d;stroke-width:0.15px">N969K</text><text transform="translate(215.30,95.00) scale(1,1.100)" style="font-size:6.8px">Pearson</text><text transform="translate(215.30,102.25) scale(1,1.100)" style="font-size:6.8px">Correlation</text><rect x="215.30" y="107.30" width="10.80" height="54.50" fill="url(#cb)"/><line x1="215.30" x2="217.30" y1="106.85" y2="106.85" stroke="#fff" stroke-width="0.4"/><line x1="224.10" x2="226.10" y1="106.85" y2="106.85" stroke="#fff" stroke-width="0.4"/><text transform="translate(229.60,108.70) scale(1,1.100)" style="font-size:5.3px">1.0</text><line x1="215.30" x2="217.30" y1="120.30" y2="120.30" stroke="#fff" stroke-width="0.4"/><line x1="224.10" x2="226.10" y1="120.30" y2="120.30" stroke="#fff" stroke-width="0.4"/><text transform="translate(229.60,122.15) scale(1,1.100)" style="font-size:5.3px">0.5</text><line x1="215.30" x2="217.30" y1="133.75" y2="133.75" stroke="#fff" stroke-width="0.4"/><line x1="224.10" x2="226.10" y1="133.75" y2="133.75" stroke="#fff" stroke-width="0.4"/><text transform="translate(229.60,135.60) scale(1,1.100)" style="font-size:5.3px">0.0</text><line x1="215.30" x2="217.30" y1="147.20" y2="147.20" stroke="#fff" stroke-width="0.4"/><line x1="224.10" x2="226.10" y1="147.20" y2="147.20" stroke="#fff" stroke-width="0.4"/><text transform="translate(229.60,149.05) scale(1,1.100)" style="font-size:5.3px">−0.5</text><line x1="215.30" x2="217.30" y1="160.65" y2="160.65" stroke="#fff" stroke-width="0.4"/><line x1="224.10" x2="226.10" y1="160.65" y2="160.65" stroke="#fff" stroke-width="0.4"/><text transform="translate(229.60,162.50) scale(1,1.100)" style="font-size:5.3px">−1.0</text><rect x="335.80" y="42.00" width="9.29" height="9.27" fill="#e9e4f4"/><rect x="344.59" y="42.00" width="9.29" height="9.27" fill="#fde4db"/><rect x="362.18" y="42.00" width="9.29" height="9.27" fill="#fde4db"/><rect x="370.98" y="42.00" width="9.29" height="9.27" fill="#d1c7e8"/><rect x="379.77" y="42.00" width="9.29" height="9.27" fill="#f6f4fa"/><rect x="388.56" y="42.00" width="9.29" height="9.27" fill="#e9e4f4"/><rect x="397.36" y="42.00" width="9.29" height="9.27" fill="#c4b7e1"/><rect x="406.15" y="42.00" width="9.29" height="9.27" fill="#e7e1f3"/><rect x="414.95" y="42.00" width="9.29" height="9.27" fill="#ebe6f5"/><rect x="423.75" y="42.00" width="9.29" height="9.27" fill="#ebe6f5"/><rect x="441.33" y="42.00" width="9.29" height="9.27" fill="#f0876c"/><rect x="450.13" y="42.00" width="9.29" height="9.27" fill="#f0876c"/><rect x="458.93" y="42.00" width="9.29" height="9.27" fill="#ed7052"/><rect x="467.72" y="42.00" width="9.29" height="9.27" fill="#ec6448"/><rect x="476.51" y="42.00" width="9.29" height="9.27" fill="#ec5f44"/><rect x="485.31" y="42.00" width="8.79" height="9.27" fill="#e6161c"/><rect x="335.80" y="50.77" width="9.29" height="9.27" fill="#d3c9e9"/><rect x="344.59" y="50.77" width="9.29" height="9.27" fill="#fde4db"/><rect x="353.38" y="50.77" width="9.29" height="9.27" fill="#e4ddf1"/><rect x="362.18" y="50.77" width="9.29" height="9.27" fill="#fde4db"/><rect x="370.98" y="50.77" width="9.29" height="9.27" fill="#c2b5e0"/><rect x="379.77" y="50.77" width="9.29" height="9.27" fill="#fde8e0"/><rect x="397.36" y="50.77" width="9.29" height="9.27" fill="#c4b7e1"/><rect x="406.15" y="50.77" width="9.29" height="9.27" fill="#e5dff2"/><rect x="414.95" y="50.77" width="9.29" height="9.27" fill="#ebe6f5"/><rect x="423.75" y="50.77" width="9.29" height="9.27" fill="#ebe6f5"/><rect x="441.33" y="50.77" width="9.29" height="9.27" fill="#f0876c"/><rect x="450.13" y="50.77" width="9.29" height="9.27" fill="#f0876c"/><rect x="458.93" y="50.77" width="9.29" height="9.27" fill="#ec694c"/><rect x="467.72" y="50.77" width="9.29" height="9.27" fill="#f0876c"/><rect x="476.51" y="50.77" width="9.29" height="9.27" fill="#e6161c"/><rect x="485.31" y="50.77" width="8.79" height="9.27" fill="#ec5f44"/><rect x="335.80" y="59.54" width="9.29" height="9.27" fill="#fbd4c8"/><rect x="344.59" y="59.54" width="9.29" height="9.27" fill="#fde4db"/><rect x="353.38" y="59.54" width="9.29" height="9.27" fill="#facabb"/><rect x="362.18" y="59.54" width="9.29" height="9.27" fill="#fde4db"/><rect x="370.98" y="59.54" width="9.29" height="9.27" fill="#fcded4"/><rect x="379.77" y="59.54" width="9.29" height="9.27" fill="#fde4db"/><rect x="388.56" y="59.54" width="9.29" height="9.27" fill="#fffaf9"/><rect x="397.36" y="59.54" width="9.29" height="9.27" fill="#c4b7e1"/><rect x="406.15" y="59.54" width="9.29" height="9.27" fill="#e7e1f3"/><rect x="414.95" y="59.54" width="9.29" height="9.27" fill="#ede8f6"/><rect x="423.75" y="59.54" width="9.29" height="9.27" fill="#ede8f6"/><rect x="441.33" y="59.54" width="9.29" height="9.27" fill="#f0876c"/><rect x="450.13" y="59.54" width="9.29" height="9.27" fill="#f0876c"/><rect x="458.93" y="59.54" width="9.29" height="9.27" fill="#ec694c"/><rect x="467.72" y="59.54" width="9.29" height="9.27" fill="#e6161c"/><rect x="476.51" y="59.54" width="9.29" height="9.27" fill="#f0876c"/><rect x="485.31" y="59.54" width="8.79" height="9.27" fill="#ec6448"/><rect x="335.80" y="68.30" width="9.29" height="9.27" fill="#fcded4"/><rect x="344.59" y="68.30" width="9.29" height="9.27" fill="#fde4db"/><rect x="353.38" y="68.30" width="9.29" height="9.27" fill="#fcdacf"/><rect x="362.18" y="68.30" width="9.29" height="9.27" fill="#fde6de"/><rect x="370.98" y="68.30" width="9.29" height="9.27" fill="#fde8e0"/><rect x="379.77" y="68.30" width="9.29" height="9.27" fill="#f4a088"/><rect x="388.56" y="68.30" width="9.29" height="9.27" fill="#fef4f0"/><rect x="397.36" y="68.30" width="9.29" height="9.27" fill="#c8bce3"/><rect x="406.15" y="68.30" width="9.29" height="9.27" fill="#e9e4f4"/><rect x="414.95" y="68.30" width="9.29" height="9.27" fill="#f0edf8"/><rect x="423.75" y="68.30" width="9.29" height="9.27" fill="#f0edf8"/><rect x="441.33" y="68.30" width="9.29" height="9.27" fill="#ee7255"/><rect x="450.13" y="68.30" width="9.29" height="9.27" fill="#ee7457"/><rect x="458.93" y="68.30" width="9.29" height="9.27" fill="#e6161c"/><rect x="467.72" y="68.30" width="9.29" height="9.27" fill="#ec694c"/><rect x="476.51" y="68.30" width="9.29" height="9.27" fill="#ec694c"/><rect x="485.31" y="68.30" width="8.79" height="9.27" fill="#ed7052"/><rect x="335.80" y="77.07" width="9.29" height="9.27" fill="#fde8e0"/><rect x="344.59" y="77.07" width="9.29" height="9.27" fill="#feefe9"/><rect x="353.38" y="77.07" width="9.29" height="9.27" fill="#fde6de"/><rect x="362.18" y="77.07" width="9.29" height="9.27" fill="#feefe9"/><rect x="370.98" y="77.07" width="9.29" height="9.27" fill="#fef1ec"/><rect x="379.77" y="77.07" width="9.29" height="9.27" fill="#fbd8cd"/><rect x="388.56" y="77.07" width="9.29" height="9.27" fill="#f6ae99"/><rect x="397.36" y="77.07" width="9.29" height="9.27" fill="#dad2ed"/><rect x="406.15" y="77.07" width="9.29" height="9.27" fill="#ede8f6"/><rect x="414.95" y="77.07" width="9.29" height="9.27" fill="#f4f1f9"/><rect x="423.75" y="77.07" width="9.29" height="9.27" fill="#f4f1f9"/><rect x="441.33" y="77.07" width="9.29" height="9.27" fill="#fffaf9"/><rect x="450.13" y="77.07" width="9.29" height="9.27" fill="#e6161c"/><rect x="458.93" y="77.07" width="9.29" height="9.27" fill="#ee7457"/><rect x="467.72" y="77.07" width="9.29" height="9.27" fill="#f0876c"/><rect x="476.51" y="77.07" width="9.29" height="9.27" fill="#f0876c"/><rect x="485.31" y="77.07" width="8.79" height="9.27" fill="#f0876c"/><rect x="335.80" y="85.84" width="9.29" height="9.27" fill="#fde8e0"/><rect x="344.59" y="85.84" width="9.29" height="9.27" fill="#feefe9"/><rect x="353.38" y="85.84" width="9.29" height="9.27" fill="#fde6de"/><rect x="362.18" y="85.84" width="9.29" height="9.27" fill="#feefe9"/><rect x="370.98" y="85.84" width="9.29" height="9.27" fill="#fde8e0"/><rect x="379.77" y="85.84" width="9.29" height="9.27" fill="#fbd1c4"/><rect x="388.56" y="85.84" width="9.29" height="9.27" fill="#ded6ee"/><rect x="397.36" y="85.84" width="9.29" height="9.27" fill="#dad2ed"/><rect x="406.15" y="85.84" width="9.29" height="9.27" fill="#f0edf8"/><rect x="414.95" y="85.84" width="9.29" height="9.27" fill="#f4f1f9"/><rect x="423.75" y="85.84" width="9.29" height="9.27" fill="#f4f1f9"/><rect x="441.33" y="85.84" width="9.29" height="9.27" fill="#e6161c"/><rect x="450.13" y="85.84" width="9.29" height="9.27" fill="#fffaf9"/><rect x="458.93" y="85.84" width="9.29" height="9.27" fill="#ee7255"/><rect x="467.72" y="85.84" width="9.29" height="9.27" fill="#f0876c"/><rect x="476.51" y="85.84" width="9.29" height="9.27" fill="#f0876c"/><rect x="485.31" y="85.84" width="8.79" height="9.27" fill="#f0876c"/><rect x="432.54" y="94.61" width="9.29" height="9.27" fill="#e6161c"/><rect x="335.80" y="103.38" width="9.29" height="9.27" fill="#fde4db"/><rect x="344.59" y="103.38" width="9.29" height="9.27" fill="#fdede6"/><rect x="353.38" y="103.38" width="9.29" height="9.27" fill="#fcded4"/><rect x="362.18" y="103.38" width="9.29" height="9.27" fill="#fde8e0"/><rect x="370.98" y="103.38" width="9.29" height="9.27" fill="#fde4db"/><rect x="379.77" y="103.38" width="9.29" height="9.27" fill="#f9c8b9"/><rect x="388.56" y="103.38" width="9.29" height="9.27" fill="#f6ae99"/><rect x="397.36" y="103.38" width="9.29" height="9.27" fill="#f4a088"/><rect x="406.15" y="103.38" width="9.29" height="9.27" fill="#f0876c"/><rect x="414.95" y="103.38" width="9.29" height="9.27" fill="#faf8fc"/><rect x="423.75" y="103.38" width="9.29" height="9.27" fill="#e6161c"/><rect x="441.33" y="103.38" width="9.29" height="9.27" fill="#f4f1f9"/><rect x="450.13" y="103.38" width="9.29" height="9.27" fill="#f4f1f9"/><rect x="458.93" y="103.38" width="9.29" height="9.27" fill="#f0edf8"/><rect x="467.72" y="103.38" width="9.29" height="9.27" fill="#ede8f6"/><rect x="476.51" y="103.38" width="9.29" height="9.27" fill="#ebe6f5"/><rect x="485.31" y="103.38" width="8.79" height="9.27" fill="#ebe6f5"/><rect x="335.80" y="112.14" width="9.29" height="9.27" fill="#fde6de"/><rect x="344.59" y="112.14" width="9.29" height="9.27" fill="#feefe9"/><rect x="353.38" y="112.14" width="9.29" height="9.27" fill="#fce2d9"/><rect x="362.18" y="112.14" width="9.29" height="9.27" fill="#fdede6"/><rect x="370.98" y="112.14" width="9.29" height="9.27" fill="#fde4db"/><rect x="379.77" y="112.14" width="9.29" height="9.27" fill="#f9c8b9"/><rect x="388.56" y="112.14" width="9.29" height="9.27" fill="#f6ae99"/><rect x="397.36" y="112.14" width="9.29" height="9.27" fill="#f4a088"/><rect x="406.15" y="112.14" width="9.29" height="9.27" fill="#f0876c"/><rect x="414.95" y="112.14" width="9.29" height="9.27" fill="#e6161c"/><rect x="423.75" y="112.14" width="9.29" height="9.27" fill="#faf8fc"/><rect x="441.33" y="112.14" width="9.29" height="9.27" fill="#f4f1f9"/><rect x="450.13" y="112.14" width="9.29" height="9.27" fill="#f4f1f9"/><rect x="458.93" y="112.14" width="9.29" height="9.27" fill="#f0edf8"/><rect x="467.72" y="112.14" width="9.29" height="9.27" fill="#ede8f6"/><rect x="476.51" y="112.14" width="9.29" height="9.27" fill="#ebe6f5"/><rect x="485.31" y="112.14" width="8.79" height="9.27" fill="#ebe6f5"/><rect x="335.80" y="120.91" width="9.29" height="9.27" fill="#fbd4c8"/><rect x="344.59" y="120.91" width="9.29" height="9.27" fill="#fcdacf"/><rect x="353.38" y="120.91" width="9.29" height="9.27" fill="#facdbf"/><rect x="362.18" y="120.91" width="9.29" height="9.27" fill="#fde4db"/><rect x="370.98" y="120.91" width="9.29" height="9.27" fill="#fcdacf"/><rect x="379.77" y="120.91" width="9.29" height="9.27" fill="#f7b5a1"/><rect x="388.56" y="120.91" width="9.29" height="9.27" fill="#f2947a"/><rect x="397.36" y="120.91" width="9.29" height="9.27" fill="#f08367"/><rect x="406.15" y="120.91" width="9.29" height="9.27" fill="#e6161c"/><rect x="414.95" y="120.91" width="9.29" height="9.27" fill="#f0876c"/><rect x="423.75" y="120.91" width="9.29" height="9.27" fill="#f0876c"/><rect x="441.33" y="120.91" width="9.29" height="9.27" fill="#f0edf8"/><rect x="450.13" y="120.91" width="9.29" height="9.27" fill="#ede8f6"/><rect x="458.93" y="120.91" width="9.29" height="9.27" fill="#e9e4f4"/><rect x="467.72" y="120.91" width="9.29" height="9.27" fill="#e7e1f3"/><rect x="476.51" y="120.91" width="9.29" height="9.27" fill="#e5dff2"/><rect x="485.31" y="120.91" width="8.79" height="9.27" fill="#e7e1f3"/><rect x="335.80" y="129.68" width="9.29" height="9.27" fill="#fef6f3"/><rect x="344.59" y="129.68" width="9.29" height="9.27" fill="#f9c8b9"/><rect x="353.38" y="129.68" width="9.29" height="9.27" fill="#fde4db"/><rect x="362.18" y="129.68" width="9.29" height="9.27" fill="#fcdacf"/><rect x="370.98" y="129.68" width="9.29" height="9.27" fill="#facfc2"/><rect x="379.77" y="129.68" width="9.29" height="9.27" fill="#f18c72"/><rect x="388.56" y="129.68" width="9.29" height="9.27" fill="#ec5f44"/><rect x="397.36" y="129.68" width="9.29" height="9.27" fill="#e6161c"/><rect x="406.15" y="129.68" width="9.29" height="9.27" fill="#f08367"/><rect x="414.95" y="129.68" width="9.29" height="9.27" fill="#f4a088"/><rect x="423.75" y="129.68" width="9.29" height="9.27" fill="#f4a088"/><rect x="441.33" y="129.68" width="9.29" height="9.27" fill="#dad2ed"/><rect x="450.13" y="129.68" width="9.29" height="9.27" fill="#dad2ed"/><rect x="458.93" y="129.68" width="9.29" height="9.27" fill="#c8bce3"/><rect x="467.72" y="129.68" width="9.29" height="9.27" fill="#c4b7e1"/><rect x="476.51" y="129.68" width="9.29" height="9.27" fill="#c4b7e1"/><rect x="485.31" y="129.68" width="8.79" height="9.27" fill="#c4b7e1"/><rect x="335.80" y="138.45" width="9.29" height="9.27" fill="#fef1ec"/><rect x="344.59" y="138.45" width="9.29" height="9.27" fill="#f9c8b9"/><rect x="353.38" y="138.45" width="9.29" height="9.27" fill="#fbd4c8"/><rect x="362.18" y="138.45" width="9.29" height="9.27" fill="#fbd2c6"/><rect x="370.98" y="138.45" width="9.29" height="9.27" fill="#facfc2"/><rect x="379.77" y="138.45" width="9.29" height="9.27" fill="#ef7d60"/><rect x="388.56" y="138.45" width="9.29" height="9.27" fill="#e6161c"/><rect x="397.36" y="138.45" width="9.29" height="9.27" fill="#ec5f44"/><rect x="406.15" y="138.45" width="9.29" height="9.27" fill="#f2947a"/><rect x="414.95" y="138.45" width="9.29" height="9.27" fill="#f6ae99"/><rect x="423.75" y="138.45" width="9.29" height="9.27" fill="#f6ae99"/><rect x="441.33" y="138.45" width="9.29" height="9.27" fill="#ded6ee"/><rect x="450.13" y="138.45" width="9.29" height="9.27" fill="#f6ae99"/><rect x="458.93" y="138.45" width="9.29" height="9.27" fill="#fef4f0"/><rect x="467.72" y="138.45" width="9.29" height="9.27" fill="#fffaf9"/><rect x="485.31" y="138.45" width="8.79" height="9.27" fill="#e9e4f4"/><rect x="335.80" y="147.22" width="9.29" height="9.27" fill="#f9c5b5"/><rect x="344.59" y="147.22" width="9.29" height="9.27" fill="#f9c3b2"/><rect x="353.38" y="147.22" width="9.29" height="9.27" fill="#f6ae99"/><rect x="362.18" y="147.22" width="9.29" height="9.27" fill="#f9c8b9"/><rect x="370.98" y="147.22" width="9.29" height="9.27" fill="#f8baa8"/><rect x="379.77" y="147.22" width="9.29" height="9.27" fill="#e6161c"/><rect x="388.56" y="147.22" width="9.29" height="9.27" fill="#ef7d60"/><rect x="397.36" y="147.22" width="9.29" height="9.27" fill="#f18c72"/><rect x="406.15" y="147.22" width="9.29" height="9.27" fill="#f7b5a1"/><rect x="414.95" y="147.22" width="9.29" height="9.27" fill="#f9c8b9"/><rect x="423.75" y="147.22" width="9.29" height="9.27" fill="#f9c8b9"/><rect x="441.33" y="147.22" width="9.29" height="9.27" fill="#fbd1c4"/><rect x="450.13" y="147.22" width="9.29" height="9.27" fill="#fbd8cd"/><rect x="458.93" y="147.22" width="9.29" height="9.27" fill="#f4a088"/><rect x="467.72" y="147.22" width="9.29" height="9.27" fill="#fde4db"/><rect x="476.51" y="147.22" width="9.29" height="9.27" fill="#fde8e0"/><rect x="485.31" y="147.22" width="8.79" height="9.27" fill="#f6f4fa"/><rect x="335.80" y="155.98" width="9.29" height="9.27" fill="#ec664a"/><rect x="344.59" y="155.98" width="9.29" height="9.27" fill="#ed6e50"/><rect x="353.38" y="155.98" width="9.29" height="9.27" fill="#ed6e50"/><rect x="362.18" y="155.98" width="9.29" height="9.27" fill="#f6b29d"/><rect x="370.98" y="155.98" width="9.29" height="9.27" fill="#e6161c"/><rect x="379.77" y="155.98" width="9.29" height="9.27" fill="#f8baa8"/><rect x="388.56" y="155.98" width="9.29" height="9.27" fill="#facfc2"/><rect x="397.36" y="155.98" width="9.29" height="9.27" fill="#facfc2"/><rect x="406.15" y="155.98" width="9.29" height="9.27" fill="#fcdacf"/><rect x="414.95" y="155.98" width="9.29" height="9.27" fill="#fde4db"/><rect x="423.75" y="155.98" width="9.29" height="9.27" fill="#fde4db"/><rect x="441.33" y="155.98" width="9.29" height="9.27" fill="#fde8e0"/><rect x="450.13" y="155.98" width="9.29" height="9.27" fill="#fef1ec"/><rect x="458.93" y="155.98" width="9.29" height="9.27" fill="#fde8e0"/><rect x="467.72" y="155.98" width="9.29" height="9.27" fill="#fcded4"/><rect x="476.51" y="155.98" width="9.29" height="9.27" fill="#c2b5e0"/><rect x="485.31" y="155.98" width="8.79" height="9.27" fill="#d1c7e8"/><rect x="335.80" y="164.75" width="9.29" height="9.27" fill="#f9c8b9"/><rect x="344.59" y="164.75" width="9.29" height="9.27" fill="#f6b29d"/><rect x="353.38" y="164.75" width="9.29" height="9.27" fill="#fcdacf"/><rect x="362.18" y="164.75" width="9.29" height="9.27" fill="#e6161c"/><rect x="370.98" y="164.75" width="9.29" height="9.27" fill="#f6b29d"/><rect x="379.77" y="164.75" width="9.29" height="9.27" fill="#f9c8b9"/><rect x="388.56" y="164.75" width="9.29" height="9.27" fill="#fbd2c6"/><rect x="397.36" y="164.75" width="9.29" height="9.27" fill="#fcdacf"/><rect x="406.15" y="164.75" width="9.29" height="9.27" fill="#fde4db"/><rect x="414.95" y="164.75" width="9.29" height="9.27" fill="#fdede6"/><rect x="423.75" y="164.75" width="9.29" height="9.27" fill="#fde8e0"/><rect x="441.33" y="164.75" width="9.29" height="9.27" fill="#feefe9"/><rect x="450.13" y="164.75" width="9.29" height="9.27" fill="#feefe9"/><rect x="458.93" y="164.75" width="9.29" height="9.27" fill="#fde6de"/><rect x="467.72" y="164.75" width="9.29" height="9.27" fill="#fde4db"/><rect x="476.51" y="164.75" width="9.29" height="9.27" fill="#fde4db"/><rect x="485.31" y="164.75" width="8.79" height="9.27" fill="#fde4db"/><rect x="335.80" y="173.52" width="9.29" height="9.27" fill="#ed7052"/><rect x="344.59" y="173.52" width="9.29" height="9.27" fill="#f4a088"/><rect x="353.38" y="173.52" width="9.29" height="9.27" fill="#e6161c"/><rect x="362.18" y="173.52" width="9.29" height="9.27" fill="#fcdacf"/><rect x="370.98" y="173.52" width="9.29" height="9.27" fill="#ed6e50"/><rect x="379.77" y="173.52" width="9.29" height="9.27" fill="#f6ae99"/><rect x="388.56" y="173.52" width="9.29" height="9.27" fill="#fbd4c8"/><rect x="397.36" y="173.52" width="9.29" height="9.27" fill="#fde4db"/><rect x="406.15" y="173.52" width="9.29" height="9.27" fill="#facdbf"/><rect x="414.95" y="173.52" width="9.29" height="9.27" fill="#fce2d9"/><rect x="423.75" y="173.52" width="9.29" height="9.27" fill="#fcded4"/><rect x="441.33" y="173.52" width="9.29" height="9.27" fill="#fde6de"/><rect x="450.13" y="173.52" width="9.29" height="9.27" fill="#fde6de"/><rect x="458.93" y="173.52" width="9.29" height="9.27" fill="#fcdacf"/><rect x="467.72" y="173.52" width="9.29" height="9.27" fill="#facabb"/><rect x="476.51" y="173.52" width="9.29" height="9.27" fill="#e4ddf1"/><rect x="335.80" y="182.29" width="9.29" height="9.27" fill="#f4a088"/><rect x="344.59" y="182.29" width="9.29" height="9.27" fill="#e6161c"/><rect x="353.38" y="182.29" width="9.29" height="9.27" fill="#f4a088"/><rect x="362.18" y="182.29" width="9.29" height="9.27" fill="#f6b29d"/><rect x="370.98" y="182.29" width="9.29" height="9.27" fill="#ed6e50"/><rect x="379.77" y="182.29" width="9.29" height="9.27" fill="#f9c3b2"/><rect x="388.56" y="182.29" width="9.29" height="9.27" fill="#f9c8b9"/><rect x="397.36" y="182.29" width="9.29" height="9.27" fill="#f9c8b9"/><rect x="406.15" y="182.29" width="9.29" height="9.27" fill="#fcdacf"/><rect x="414.95" y="182.29" width="9.29" height="9.27" fill="#feefe9"/><rect x="423.75" y="182.29" width="9.29" height="9.27" fill="#fdede6"/><rect x="441.33" y="182.29" width="9.29" height="9.27" fill="#feefe9"/><rect x="450.13" y="182.29" width="9.29" height="9.27" fill="#feefe9"/><rect x="458.93" y="182.29" width="9.29" height="9.27" fill="#fde4db"/><rect x="467.72" y="182.29" width="9.29" height="9.27" fill="#fde4db"/><rect x="476.51" y="182.29" width="9.29" height="9.27" fill="#fde4db"/><rect x="485.31" y="182.29" width="8.79" height="9.27" fill="#fde4db"/><rect x="335.80" y="191.06" width="9.29" height="9.27" fill="#e6161c"/><rect x="344.59" y="191.06" width="9.29" height="9.27" fill="#f4a088"/><rect x="353.38" y="191.06" width="9.29" height="9.27" fill="#ed7052"/><rect x="362.18" y="191.06" width="9.29" height="9.27" fill="#f9c8b9"/><rect x="370.98" y="191.06" width="9.29" height="9.27" fill="#ec664a"/><rect x="379.77" y="191.06" width="9.29" height="9.27" fill="#f9c5b5"/><rect x="388.56" y="191.06" width="9.29" height="9.27" fill="#fef1ec"/><rect x="397.36" y="191.06" width="9.29" height="9.27" fill="#fef6f3"/><rect x="406.15" y="191.06" width="9.29" height="9.27" fill="#fbd4c8"/><rect x="414.95" y="191.06" width="9.29" height="9.27" fill="#fde6de"/><rect x="423.75" y="191.06" width="9.29" height="9.27" fill="#fde4db"/><rect x="441.33" y="191.06" width="9.29" height="9.27" fill="#fde8e0"/><rect x="450.13" y="191.06" width="9.29" height="9.27" fill="#fde8e0"/><rect x="458.93" y="191.06" width="9.29" height="9.27" fill="#fcded4"/><rect x="467.72" y="191.06" width="9.29" height="9.27" fill="#fbd4c8"/><rect x="476.51" y="191.06" width="9.29" height="9.27" fill="#d3c9e9"/><rect x="485.31" y="191.06" width="8.79" height="9.27" fill="#e9e4f4"/><rect x="327.00" y="199.82" width="9.29" height="8.77" fill="#e6161c"/><line x1="327.00" x2="494.11" y1="50.77" y2="50.77" stroke="#fff" stroke-opacity="0.40" stroke-width="0.50"/><line x1="335.80" x2="335.80" y1="42.00" y2="208.59" stroke="#fff" stroke-opacity="0.40" stroke-width="0.50"/><line x1="327.00" x2="494.11" y1="59.54" y2="59.54" stroke="#fff" stroke-opacity="0.40" stroke-width="0.50"/><line x1="344.59" x2="344.59" y1="42.00" y2="208.59" stroke="#fff" stroke-opacity="0.40" stroke-width="0.50"/><line x1="327.00" x2="494.11" y1="68.30" y2="68.30" stroke="#fff" stroke-opacity="0.40" stroke-width="0.50"/><line x1="353.38" x2="353.38" y1="42.00" y2="208.59" stroke="#fff" stroke-opacity="0.40" stroke-width="0.50"/><line x1="327.00" x2="494.11" y1="77.07" y2="77.07" stroke="#fff" stroke-opacity="0.40" stroke-width="0.50"/><line x1="362.18" x2="362.18" y1="42.00" y2="208.59" stroke="#fff" stroke-opacity="0.40" stroke-width="0.50"/><line x1="327.00" x2="494.11" y1="85.84" y2="85.84" stroke="#fff" stroke-opacity="0.40" stroke-width="0.50"/><line x1="370.98" x2="370.98" y1="42.00" y2="208.59" stroke="#fff" stroke-opacity="0.40" stroke-width="0.50"/><line x1="327.00" x2="494.11" y1="94.61" y2="94.61" stroke="#fff" stroke-opacity="0.40" stroke-width="0.50"/><line x1="379.77" x2="379.77" y1="42.00" y2="208.59" stroke="#fff" stroke-opacity="0.40" stroke-width="0.50"/><line x1="327.00" x2="494.11" y1="103.38" y2="103.38" stroke="#fff" stroke-opacity="0.40" stroke-width="0.50"/><line x1="388.56" x2="388.56" y1="42.00" y2="208.59" stroke="#fff" stroke-opacity="0.40" stroke-width="0.50"/><line x1="327.00" x2="494.11" y1="112.14" y2="112.14" stroke="#fff" stroke-opacity="0.40" stroke-width="0.50"/><line x1="397.36" x2="397.36" y1="42.00" y2="208.59" stroke="#fff" stroke-opacity="0.40" stroke-width="0.50"/><line x1="327.00" x2="494.11" y1="120.91" y2="120.91" stroke="#fff" stroke-opacity="0.40" stroke-width="0.50"/><line x1="406.15" x2="406.15" y1="42.00" y2="208.59" stroke="#fff" stroke-opacity="0.40" stroke-width="0.50"/><line x1="327.00" x2="494.11" y1="129.68" y2="129.68" stroke="#fff" stroke-opacity="0.40" stroke-width="0.50"/><line x1="414.95" x2="414.95" y1="42.00" y2="208.59" stroke="#fff" stroke-opacity="0.40" stroke-width="0.50"/><line x1="327.00" x2="494.11" y1="138.45" y2="138.45" stroke="#fff" stroke-opacity="0.40" stroke-width="0.50"/><line x1="423.75" x2="423.75" y1="42.00" y2="208.59" stroke="#fff" stroke-opacity="0.40" stroke-width="0.50"/><line x1="327.00" x2="494.11" y1="147.22" y2="147.22" stroke="#fff" stroke-opacity="0.40" stroke-width="0.50"/><line x1="432.54" x2="432.54" y1="42.00" y2="208.59" stroke="#fff" stroke-opacity="0.40" stroke-width="0.50"/><line x1="327.00" x2="494.11" y1="155.98" y2="155.98" stroke="#fff" stroke-opacity="0.40" stroke-width="0.50"/><line x1="441.33" x2="441.33" y1="42.00" y2="208.59" stroke="#fff" stroke-opacity="0.40" stroke-width="0.50"/><line x1="327.00" x2="494.11" y1="164.75" y2="164.75" stroke="#fff" stroke-opacity="0.40" stroke-width="0.50"/><line x1="450.13" x2="450.13" y1="42.00" y2="208.59" stroke="#fff" stroke-opacity="0.40" stroke-width="0.50"/><line x1="327.00" x2="494.11" y1="173.52" y2="173.52" stroke="#fff" stroke-opacity="0.40" stroke-width="0.50"/><line x1="458.93" x2="458.93" y1="42.00" y2="208.59" stroke="#fff" stroke-opacity="0.40" stroke-width="0.50"/><line x1="327.00" x2="494.11" y1="182.29" y2="182.29" stroke="#fff" stroke-opacity="0.40" stroke-width="0.50"/><line x1="467.72" x2="467.72" y1="42.00" y2="208.59" stroke="#fff" stroke-opacity="0.40" stroke-width="0.50"/><line x1="327.00" x2="494.11" y1="191.06" y2="191.06" stroke="#fff" stroke-opacity="0.40" stroke-width="0.50"/><line x1="476.51" x2="476.51" y1="42.00" y2="208.59" stroke="#fff" stroke-opacity="0.40" stroke-width="0.50"/><line x1="327.00" x2="494.11" y1="199.82" y2="199.82" stroke="#fff" stroke-opacity="0.40" stroke-width="0.50"/><line x1="485.31" x2="485.31" y1="42.00" y2="208.59" stroke="#fff" stroke-opacity="0.40" stroke-width="0.50"/><text transform="translate(263.0,21.6) scale(1.04,0.95)" style="font-size:12.4px;stroke:none">b</text><text transform="translate(405.8,29.8) scale(1,1.100)" text-anchor="middle" style="font-size:6.88px">Correlation analysis of haplotypes</text><text transform="translate(324,49.98) scale(1,1.100)" text-anchor="end" style="font-size:6.1px;fill:#4d4d4d;stroke:#4d4d4d;stroke-width:0.15px">H66</text><text transform="translate(324,58.75) scale(1,1.100)" text-anchor="end" style="font-size:6.1px;fill:#4d4d4d;stroke:#4d4d4d;stroke-width:0.15px">H76</text><text transform="translate(324,67.52) scale(1,1.100)" text-anchor="end" style="font-size:6.1px;fill:#4d4d4d;stroke:#4d4d4d;stroke-width:0.15px">H19</text><text transform="translate(324,76.29) scale(1,1.100)" text-anchor="end" style="font-size:6.1px;fill:#4d4d4d;stroke:#4d4d4d;stroke-width:0.15px">H11</text><text transform="translate(324,85.06) scale(1,1.100)" text-anchor="end" style="font-size:6.1px;fill:#4d4d4d;stroke:#4d4d4d;stroke-width:0.15px">H10</text><text transform="translate(324,93.82) scale(1,1.100)" text-anchor="end" style="font-size:6.1px;fill:#4d4d4d;stroke:#4d4d4d;stroke-width:0.15px">H9</text><text transform="translate(324,102.59) scale(1,1.100)" text-anchor="end" style="font-size:6.1px;fill:#4d4d4d;stroke:#4d4d4d;stroke-width:0.15px">H2</text><text transform="translate(324,111.36) scale(1,1.100)" text-anchor="end" style="font-size:6.1px;fill:#4d4d4d;stroke:#4d4d4d;stroke-width:0.15px">H62</text><text transform="translate(324,120.13) scale(1,1.100)" text-anchor="end" style="font-size:6.1px;fill:#4d4d4d;stroke:#4d4d4d;stroke-width:0.15px">H46</text><text transform="translate(324,128.90) scale(1,1.100)" text-anchor="end" style="font-size:6.1px;fill:#4d4d4d;stroke:#4d4d4d;stroke-width:0.15px">H38</text><text transform="translate(324,137.66) scale(1,1.100)" text-anchor="end" style="font-size:6.1px;fill:#4d4d4d;stroke:#4d4d4d;stroke-width:0.15px">H55</text><text transform="translate(324,146.43) scale(1,1.100)" text-anchor="end" style="font-size:6.1px;fill:#4d4d4d;stroke:#4d4d4d;stroke-width:0.15px">H57</text><text transform="translate(324,155.20) scale(1,1.100)" text-anchor="end" style="font-size:6.1px;fill:#4d4d4d;stroke:#4d4d4d;stroke-width:0.15px">H68</text><text transform="translate(324,163.97) scale(1,1.100)" text-anchor="end" style="font-size:6.1px;fill:#4d4d4d;stroke:#4d4d4d;stroke-width:0.15px">H48</text><text transform="translate(324,172.74) scale(1,1.100)" text-anchor="end" style="font-size:6.1px;fill:#4d4d4d;stroke:#4d4d4d;stroke-width:0.15px">H41</text><text transform="translate(324,181.50) scale(1,1.100)" text-anchor="end" style="font-size:6.1px;fill:#4d4d4d;stroke:#4d4d4d;stroke-width:0.15px">H33</text><text transform="translate(324,190.27) scale(1,1.100)" text-anchor="end" style="font-size:6.1px;fill:#4d4d4d;stroke:#4d4d4d;stroke-width:0.15px">H13</text><text transform="translate(324,199.04) scale(1,1.100)" text-anchor="end" style="font-size:6.1px;fill:#4d4d4d;stroke:#4d4d4d;stroke-width:0.15px">H1</text><text transform="translate(324,207.81) scale(1,1.100)" text-anchor="end" style="font-size:6.1px;fill:#4d4d4d;stroke:#4d4d4d;stroke-width:0.15px">H17</text><text text-anchor="end" transform="translate(334.70,215.50) rotate(-45) scale(1,1.100)" style="font-size:6.1px;fill:#4d4d4d;stroke:#4d4d4d;stroke-width:0.15px">H17</text><text text-anchor="end" transform="translate(343.49,215.50) rotate(-45) scale(1,1.100)" style="font-size:6.1px;fill:#4d4d4d;stroke:#4d4d4d;stroke-width:0.15px">H1</text><text text-anchor="end" transform="translate(352.29,215.50) rotate(-45) scale(1,1.100)" style="font-size:6.1px;fill:#4d4d4d;stroke:#4d4d4d;stroke-width:0.15px">H13</text><text text-anchor="end" transform="translate(361.08,215.50) rotate(-45) scale(1,1.100)" style="font-size:6.1px;fill:#4d4d4d;stroke:#4d4d4d;stroke-width:0.15px">H33</text><text text-anchor="end" transform="translate(369.88,215.50) rotate(-45) scale(1,1.100)" style="font-size:6.1px;fill:#4d4d4d;stroke:#4d4d4d;stroke-width:0.15px">H41</text><text text-anchor="end" transform="translate(378.67,215.50) rotate(-45) scale(1,1.100)" style="font-size:6.1px;fill:#4d4d4d;stroke:#4d4d4d;stroke-width:0.15px">H48</text><text text-anchor="end" transform="translate(387.47,215.50) rotate(-45) scale(1,1.100)" style="font-size:6.1px;fill:#4d4d4d;stroke:#4d4d4d;stroke-width:0.15px">H68</text><text text-anchor="end" transform="translate(396.26,215.50) rotate(-45) scale(1,1.100)" style="font-size:6.1px;fill:#4d4d4d;stroke:#4d4d4d;stroke-width:0.15px">H57</text><text text-anchor="end" transform="translate(405.06,215.50) rotate(-45) scale(1,1.100)" style="font-size:6.1px;fill:#4d4d4d;stroke:#4d4d4d;stroke-width:0.15px">H55</text><text text-anchor="end" transform="translate(413.85,215.50) rotate(-45) scale(1,1.100)" style="font-size:6.1px;fill:#4d4d4d;stroke:#4d4d4d;stroke-width:0.15px">H38</text><text text-anchor="end" transform="translate(422.65,215.50) rotate(-45) scale(1,1.100)" style="font-size:6.1px;fill:#4d4d4d;stroke:#4d4d4d;stroke-width:0.15px">H46</text><text text-anchor="end" transform="translate(431.44,215.50) rotate(-45) scale(1,1.100)" style="font-size:6.1px;fill:#4d4d4d;stroke:#4d4d4d;stroke-width:0.15px">H62</text><text text-anchor="end" transform="translate(440.24,215.50) rotate(-45) scale(1,1.100)" style="font-size:6.1px;fill:#4d4d4d;stroke:#4d4d4d;stroke-width:0.15px">H2</text><text text-anchor="end" transform="translate(449.03,215.50) rotate(-45) scale(1,1.100)" style="font-size:6.1px;fill:#4d4d4d;stroke:#4d4d4d;stroke-width:0.15px">H9</text><text text-anchor="end" transform="translate(457.83,215.50) rotate(-45) scale(1,1.100)" style="font-size:6.1px;fill:#4d4d4d;stroke:#4d4d4d;stroke-width:0.15px">H10</text><text text-anchor="end" transform="translate(466.62,215.50) rotate(-45) scale(1,1.100)" style="font-size:6.1px;fill:#4d4d4d;stroke:#4d4d4d;stroke-width:0.15px">H11</text><text text-anchor="end" transform="translate(475.42,215.50) rotate(-45) scale(1,1.100)" style="font-size:6.1px;fill:#4d4d4d;stroke:#4d4d4d;stroke-width:0.15px">H19</text><text text-anchor="end" transform="translate(484.21,215.50) rotate(-45) scale(1,1.100)" style="font-size:6.1px;fill:#4d4d4d;stroke:#4d4d4d;stroke-width:0.15px">H76</text><text text-anchor="end" transform="translate(493.01,215.50) rotate(-45) scale(1,1.100)" style="font-size:6.1px;fill:#4d4d4d;stroke:#4d4d4d;stroke-width:0.15px">H66</text><rect x="325.3" y="46.00" width="1.5" height="46.50" fill="#555"/><rect x="325.3" y="108.50" width="1.5" height="46.50" fill="#555"/><rect x="325.3" y="159.50" width="1.5" height="31.80" fill="#555"/><text transform="translate(293.00,61.90) scale(1,1.100)" text-anchor="middle" style="font-size:6.20px">Post-Omicron</text><text transform="translate(293.00,69.00) scale(1,1.100)" text-anchor="middle" style="font-size:6.20px">Candidates</text><text transform="translate(293.00,98.80) scale(1,1.100)" text-anchor="middle" style="font-size:6.20px">Intact-Omicron</text><text transform="translate(293.00,105.50) scale(1,1.100)" text-anchor="middle" style="font-size:6.20px">BA.1~5</text><text transform="translate(293.00,127.50) scale(1,1.100)" text-anchor="middle" style="font-size:6.20px">Pre-Omicron</text><text transform="translate(293.00,135.00) scale(1,1.100)" text-anchor="middle" style="font-size:6.20px">Candidates</text><text transform="translate(293.00,174.70) scale(1,1.100)" text-anchor="middle" style="font-size:6.20px">Non-Omicron</text><text transform="translate(293.00,182.40) scale(1,1.100)" text-anchor="middle" style="font-size:6.20px">SARS-CoV-2</text><text transform="translate(314,199.04) scale(1,1.100)" text-anchor="end" style="font-size:6.1px">(Delta)</text><text transform="translate(310.5,208.21) scale(1,1.100)" text-anchor="end" style="font-size:6.1px">(WT)</text><text transform="translate(507.30,105.00) scale(1,1.100)" style="font-size:6.8px">Pearson</text><text transform="translate(507.30,112.25) scale(1,1.100)" style="font-size:6.8px">Correlation</text><rect x="506.90" y="116.20" width="11.00" height="54.20" fill="url(#cb)"/><line x1="506.90" x2="508.90" y1="115.75" y2="115.75" stroke="#fff" stroke-width="0.4"/><line x1="515.90" x2="517.90" y1="115.75" y2="115.75" stroke="#fff" stroke-width="0.4"/><text transform="translate(521.40,117.60) scale(1,1.100)" style="font-size:5.3px">1.0</text><line x1="506.90" x2="508.90" y1="129.20" y2="129.20" stroke="#fff" stroke-width="0.4"/><line x1="515.90" x2="517.90" y1="129.20" y2="129.20" stroke="#fff" stroke-width="0.4"/><text transform="translate(521.40,131.05) scale(1,1.100)" style="font-size:5.3px">0.5</text><line x1="506.90" x2="508.90" y1="142.65" y2="142.65" stroke="#fff" stroke-width="0.4"/><line x1="515.90" x2="517.90" y1="142.65" y2="142.65" stroke="#fff" stroke-width="0.4"/><text transform="translate(521.40,144.50) scale(1,1.100)" style="font-size:5.3px">0.0</text><line x1="506.90" x2="508.90" y1="156.10" y2="156.10" stroke="#fff" stroke-width="0.4"/><line x1="515.90" x2="517.90" y1="156.10" y2="156.10" stroke="#fff" stroke-width="0.4"/><text transform="translate(521.40,157.95) scale(1,1.100)" style="font-size:5.3px">−0.5</text><line x1="506.90" x2="508.90" y1="169.55" y2="169.55" stroke="#fff" stroke-width="0.4"/><line x1="515.90" x2="517.90" y1="169.55" y2="169.55" stroke="#fff" stroke-width="0.4"/><text transform="translate(521.40,171.40) scale(1,1.100)" style="font-size:5.3px">−1.0</text></svg></body></html>
